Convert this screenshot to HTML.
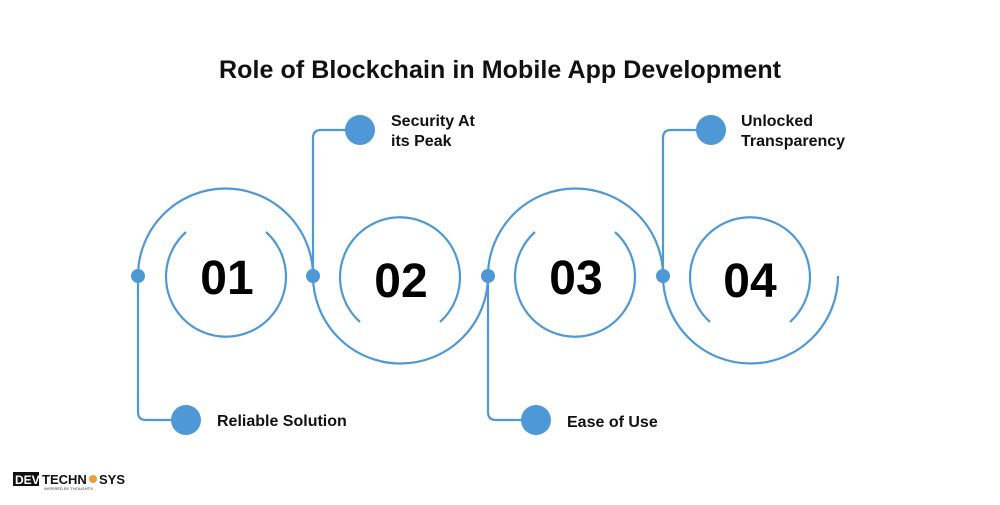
<!DOCTYPE html>
<html><head><style>
body{margin:0;width:1000px;height:500px;background:#fff;overflow:hidden;font-family:"Liberation Sans",sans-serif}
</style></head><body>
<svg width="1000" height="500" viewBox="0 0 1000 500" xmlns="http://www.w3.org/2000/svg">
<text x="500" y="78" text-anchor="middle" font-size="25" font-weight="bold" fill="#111" font-family="Liberation Sans, sans-serif" textLength="562">Role of Blockchain in Mobile App Development</text>
<g fill="none" stroke="#4f98d6" stroke-width="2.2">
<path d="M138 276 A87.5 87.5 0 0 1 313 276 A87.5 87.5 0 0 0 488 276 A87.5 87.5 0 0 1 663 276 A87.5 87.5 0 0 0 838 276"/>
<path d="M186 232 A60 60 0 1 0 266 232"/>
<path d="M360 322 A60 60 0 1 1 440 322"/>
<path d="M535 232 A60 60 0 1 0 615 232"/>
<path d="M710 322 A60 60 0 1 1 790 322"/>
<path d="M138 276 V412 Q138 420 146 420 H186"/>
<path d="M313 276 V138 Q313 130 321 130 H360"/>
<path d="M488 276 V412 Q488 420 496 420 H536"/>
<path d="M663 276 V138 Q663 130 671 130 H711"/>
</g>
<g fill="#4f98d6">
<circle cx="138" cy="276" r="7"/><circle cx="313" cy="276" r="7"/><circle cx="488" cy="276" r="7"/><circle cx="663" cy="276" r="7"/>
<circle cx="186" cy="420" r="15"/><circle cx="360" cy="130" r="15"/><circle cx="536" cy="420" r="15"/><circle cx="711" cy="130" r="15"/>
</g>
<g font-size="48" font-weight="bold" fill="#000" text-anchor="middle" font-family="Liberation Sans, sans-serif">
<text x="227" y="294">01</text><text x="401" y="297">02</text><text x="576" y="294">03</text><text x="750" y="297">04</text>
</g>
<g font-size="16" font-weight="bold" fill="#111" font-family="Liberation Sans, sans-serif">
<text x="217" y="426">Reliable Solution</text>
<text x="391" y="126">Security At</text><text x="391" y="146">its Peak</text>
<text x="567" y="427">Ease of Use</text>
<text x="741" y="126">Unlocked</text><text x="741" y="146">Transparency</text>
</g>
<rect x="13" y="472" width="26" height="14" fill="#111"/>
<text x="15" y="484" font-size="12" font-weight="bold" fill="#fff">DEV</text>
<text x="42" y="484" font-size="13" font-weight="bold" fill="#111">TECHN</text>
<circle cx="93" cy="479" r="4" fill="#f0a030"/>
<text x="99" y="484" font-size="13" font-weight="bold" fill="#111">SYS</text>
<text x="44" y="490" font-size="4" fill="#333">INSPIRED BY THOUGHTS</text>
</svg>
</body></html>
